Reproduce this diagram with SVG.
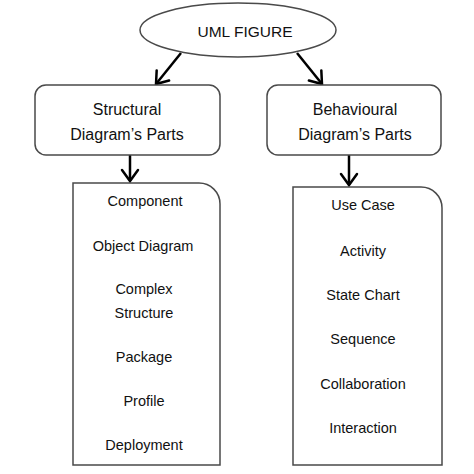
<svg xmlns="http://www.w3.org/2000/svg" width="474" height="474" viewBox="0 0 474 474">
<defs>
<marker id="arr" markerUnits="userSpaceOnUse" markerWidth="20" markerHeight="20" viewBox="-12 -10 14 20" refX="0" refY="0" orient="auto">
<path d="M-11,-8 L0,0 L-11,8" fill="none" stroke="#000" stroke-width="2.5" stroke-linecap="round" stroke-linejoin="miter"/>
</marker>
</defs>
<style>
.shape{fill:#fff;stroke:#4a4a4a;stroke-width:1.5}
.t{font-family:"Liberation Sans",Arial,sans-serif;fill:#111;text-anchor:middle}
.h{font-size:16px}
.l{font-size:14.5px}
.c{stroke:#000;stroke-width:2.5;fill:none;marker-end:url(#arr)}
</style>
<rect width="474" height="474" fill="#fff"/>
<g id="connectors">
<line class="c" x1="181" y1="53" x2="156" y2="84"/>
<line class="c" x1="297" y1="53" x2="322" y2="84"/>
<line class="c" x1="130" y1="155" x2="130" y2="181"/>
<line class="c" x1="349" y1="155" x2="349" y2="185"/>
</g>
<g id="uml-figure">
<ellipse class="shape" cx="238" cy="30" rx="98" ry="27"/>
<text class="t" x="245" y="37" font-size="15.5">UML FIGURE</text>
</g>
<g id="structural">
<rect class="shape" x="35" y="85" width="185" height="70" rx="11"/>
<text class="t h" x="127" y="115">Structural</text>
<text class="t h" x="127" y="140">Diagram’s Parts</text>
</g>
<g id="behavioural">
<rect class="shape" x="267" y="85" width="174" height="70" rx="11"/>
<text class="t h" x="355" y="115">Behavioural</text>
<text class="t h" x="355" y="140">Diagram’s Parts</text>
</g>
<g id="structural-list">
<path class="shape" d="M73,183 H199 A21,21 0 0 1 220,204 V465 H73 Z"/>
<text class="t l" x="145" y="206">Component</text>
<text class="t l" x="143" y="251">Object Diagram</text>
<text class="t l" x="144" y="294">Complex</text>
<text class="t l" x="144" y="318">Structure</text>
<text class="t l" x="144" y="362">Package</text>
<text class="t l" x="144" y="406">Profile</text>
<text class="t l" x="144" y="450">Deployment</text>
</g>
<g id="behavioural-list">
<path class="shape" d="M293,187 H421 A21,21 0 0 1 442,208 V465 H293 Z"/>
<text class="t l" x="363" y="210">Use Case</text>
<text class="t l" x="363" y="256">Activity</text>
<text class="t l" x="363" y="300">State Chart</text>
<text class="t l" x="363" y="344">Sequence</text>
<text class="t l" x="363" y="389">Collaboration</text>
<text class="t l" x="363" y="433">Interaction</text>
</g>
</svg>
